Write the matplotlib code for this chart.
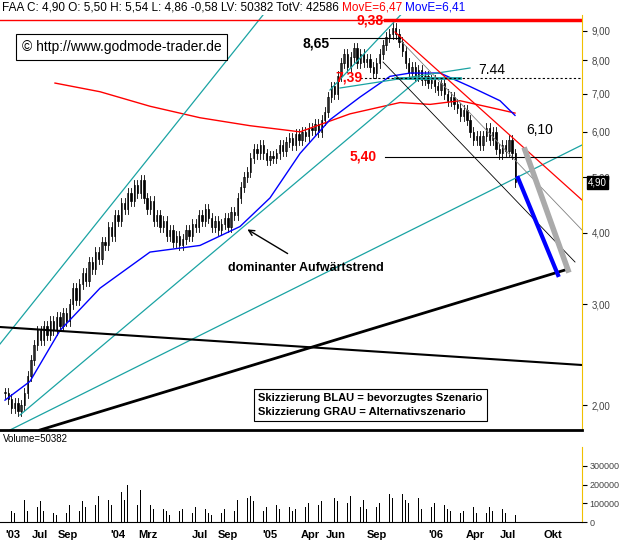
import numpy as np
import matplotlib
matplotlib.use("Agg")
import matplotlib.pyplot as plt
plt.rcParams['font.family'] = ['Liberation Sans', 'DejaVu Sans']

closes = [2.10,2.05,1.98,2.02, 1.95,2.00,2.10,2.25, 2.40,2.55,2.70,2.60, 2.75,2.65,2.80,2.70,
          2.85,2.75,2.90,2.80, 3.00,3.20,3.05,3.25, 3.40,3.30,3.55,3.45, 3.70,3.60,3.85,3.80,
          4.10,3.95,4.30,4.20, 4.50,4.40,4.70,4.55, 4.85,4.70,4.95,4.60, 4.40,4.55,4.20,4.30,
          4.10,4.20,3.95,4.05, 3.85,3.95,3.80,3.90, 4.05,3.95,4.15,4.10, 4.30,4.20,4.40,4.25,
          4.10,4.20,4.05,4.15, 4.25,4.10,4.35,4.30, 4.60,4.80,5.00,5.10, 5.40,5.60,5.50,5.70,
          5.50,5.35,5.45,5.40, 5.50,5.70,5.55,5.75, 5.85,5.70,5.95,5.80, 6.00,5.90,6.10,6.05,
          6.20,6.00,6.30,6.50, 6.90,7.20,7.00,7.50, 7.90,8.20,7.80,8.10, 8.40,7.90,8.20,7.95,
          8.05,7.80,7.60,7.90, 8.20,8.50,8.80,8.90, 9.10,8.90,8.60,8.30, 7.90,7.60,7.80,7.50,
          7.70,7.40,7.50,7.30, 7.40,7.20,7.10,7.30, 7.00,6.80,6.90,6.70, 6.60,6.40,6.55,6.30,
          6.00,5.80,5.90,5.70, 5.90,6.10,5.80,6.00, 5.60,5.50,5.70,5.55, 5.80,5.50,4.90]
volumes = [40,30,60,50, 80,70,120,60, 150,90,80,110, 60,90,70,50, 40,60,80,50, 90,120,70,60,
           110,80,60,100, 90,140,70,80, 120,90,180,110, 160,120,200,100, 150,90,170,80, 60,90,70,100,
           50,70,60,40, 80,50,60,70, 40,60,50,80, 90,60,70,50, 40,60,80,50, 70,50,90,60,
           120,150,200,130, 140,110,90,120, 60,80,50,70, 90,70,110,60, 80,60,70,90, 60,80,100,70,
           120,90,110,130, 150,190,130,110, 160,120,100,140, 110,90,80,120, 70,60,90,80,
           100,120,170,150, 130,390,200,150, 120,100,80,110, 130,70,90,60, 80,100,70,60,
           90,70,60,80, 70,50,60,90, 60,80,50,70, 60,50,80,60, 40,60,70,50, 60,80,40]
red_ma_x = [55,100,150,200,250,300,350,400,430,460,490,515]
red_ma_v = [7.3,7.05,6.65,6.35,6.15,6.0,6.45,6.75,6.7,6.8,6.62,6.47]
blue_ma_x = [5,30,60,100,150,200,240,270,300,330,360,390,410,440,470,500,515]
blue_ma_v = [2.04,2.2,2.7,3.2,3.7,3.8,4.1,4.6,5.5,6.3,6.9,7.5,7.6,7.6,7.2,6.8,6.41]
tick_labels = ["'03","Jul","Sep","'04","Mrz","Jul","Sep","'05","Apr","Jun","Sep","'06","Apr","Jul","Okt"]
tick_px = [5,40,68,118,148,200,228,270,310,336,377,436,475,508,553]

W, H = 623, 544
fig = plt.figure(figsize=(W/100, H/100), dpi=100)
def px2m(x): return 12 + (np.asarray(x, float) - 118) / 13.33
def py2p(y): return 9 * np.exp((31 - np.asarray(y, float)) / 248.7)
XL = (px2m(0), px2m(582))

ax = fig.add_axes([0, 1-430/H, 582/W, 415/H])
ax.set_yscale('log'); ax.set_xlim(XL); ax.set_ylim(py2p(430), py2p(15))
n = len(closes)
xs = px2m(5 + np.arange(n) * 3.23)
opens = [closes[0]] + closes[:-1]
for x, o, c in zip(xs, opens, closes):
    lo, hi = min(o, c), max(o, c)
    ax.plot([x, x], [lo*0.98, hi*1.02], color='black', lw=0.6)
    ax.add_patch(plt.Rectangle((x-0.05, lo), 0.10, max(hi-lo, 0.01),
                 facecolor='white' if c >= o else 'black', edgecolor='black', lw=0.5))
ax.plot(px2m(red_ma_x), red_ma_v, color='red', lw=1)
ax.plot(px2m(blue_ma_x), blue_ma_v, color='blue', lw=1)

def seg(p, q, **kw):
    ax.plot(px2m([p[0], q[0]]), py2p([p[1], q[1]]), **kw)
teal = '#1aa3a3'
seg((0,344),(263,15), color=teal, lw=0.9)
seg((330,90),(410,5), color=teal, lw=0.9)
seg((20,415),(420,78), color=teal, lw=0.9)
seg((10,430),(582,145), color=teal, lw=0.9)
seg((340,88),(470,68), color=teal, lw=0.9)
seg((395,78),(460,78), color=teal, lw=2)
seg((40,430),(565,270), color='black', lw=2)
seg((0,327),(582,365), color='black', lw=1.5)
seg((0,20),(582,20), color='red', lw=1)
seg((385,20),(582,20), color='red', lw=2.5)
seg((395,32),(582,200), color='red', lw=0.9)
seg((383,62),(575,262), color='black', lw=0.6)
seg((400,40),(582,230), color='gray', lw=0.6)
seg((330,38),(400,38), color='black', lw=0.8)
seg((360,78),(582,78), color='black', lw=0.8, ls=(0,(2,2)))
seg((385,157),(582,157), color='black', lw=0.8)
seg((518,178),(558,275), color='blue', lw=3)
seg((525,150),(568,270), color='#aaaaaa', lw=4)
ax.annotate('', xy=(px2m(245), py2p(228)), xytext=(px2m(290), py2p(255)),
            arrowprops=dict(arrowstyle='->', color='black', lw=1))
def t(x, y, s, **kw): ax.text(px2m(x), py2p(y), s, **kw)
t(370,20,'9,38', color='red', fontsize=10, fontweight='bold', va='center', ha='center')
t(302,44,'8,65', fontsize=10, fontweight='bold', va='center')
t(335,78,'7,39', color='red', fontsize=10, fontweight='bold', va='center')
t(478,70,'7.44', fontsize=10, va='center')
t(350,157,'5,40', color='red', fontsize=10, fontweight='bold', va='center')
t(526,130,'6,10', fontsize=10, va='center')
t(228,268,'dominanter Aufwärtstrend', fontsize=9, fontweight='bold', va='center')
t(258,405,'Skizzierung BLAU = bevorzugtes Szenario\nSkizzierung GRAU = Alternativszenario',
  fontsize=8, fontweight='bold', va='center', linespacing=1.4,
  bbox=dict(facecolor='white', edgecolor='black', lw=0.8, pad=3))
t(22,47,'© http://www.godmode-trader.de', fontsize=10, va='center',
  bbox=dict(facecolor='white', edgecolor='black', lw=0.8, pad=4))
ax.yaxis.tick_right()
yt = [2,3,4,5,6,7,8,9]
ax.set_yticks(yt); ax.set_yticklabels([f"{v:.2f}".replace('.', ',') for v in yt], fontsize=7, color='#444444')
ax.yaxis.set_minor_locator(matplotlib.ticker.NullLocator())
ax.set_xticks([])
ax.text(px2m(588), 4.9, '4,90', fontsize=7, color='white', va='center', clip_on=False, zorder=10,
        bbox=dict(facecolor='black', edgecolor='black', pad=1))
for s in ['top','left']: ax.spines[s].set_visible(False)
ax.spines['bottom'].set_linewidth(2)
ax.spines['right'].set_color('#f0c000')

vx = fig.add_axes([0, 1-522/H, 582/W, 75/H])
vx.bar(xs, volumes, width=0.04, color='black')
vx.set_xlim(XL); vx.set_ylim(0, 400)
vx.yaxis.tick_right()
vx.set_yticks([0,100,200,300]); vx.set_yticklabels(['0','100000','200000','300000'], fontsize=6.5, color='#444444')
vx.tick_params(axis='y', pad=2)
vx.set_xticks(px2m(tick_px)); vx.set_xticklabels(tick_labels, fontsize=8, fontweight='bold')
vx.get_xticklabels()[0].set_horizontalalignment('left')
vx.tick_params(axis='x', length=0, pad=6)
vx.spines['top'].set_visible(False); vx.spines['left'].set_visible(False)
vx.spines['right'].set_color('#f0c000')
vx.text(0.005, 1.1, 'Volume=50382', transform=vx.transAxes, fontsize=7, va='center')

t1 = fig.text(2/W, 1-7/H, 'FAA C: 4,90 O: 5,50 H: 5,54 L: 4,86 -0,58 LV: 50382 TotV: 42586', fontsize=8.5, va='center')
fig.canvas.draw()
bb = t1.get_window_extent()
t2 = fig.text((bb.x1+3)/W, 1-7/H, 'MovE=6,47', fontsize=8.5, va='center', color='red')
fig.canvas.draw()
bb2 = t2.get_window_extent()
fig.text((bb2.x1+3)/W, 1-7/H, 'MovE=6,41', fontsize=8.5, va='center', color='blue')
fig.savefig('out.png', dpi=100)
